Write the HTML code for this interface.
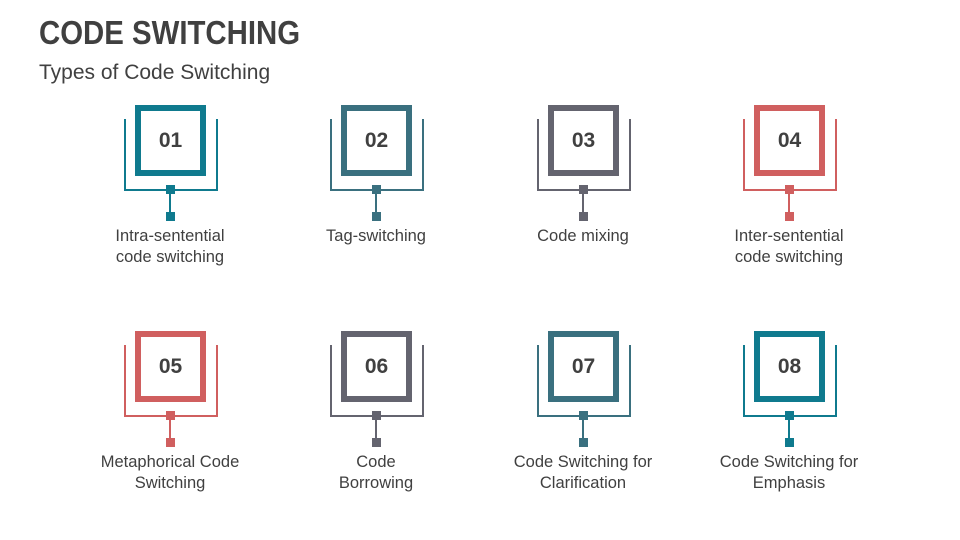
<!DOCTYPE html><html><head><style>
body{margin:0;width:960px;height:540px;background:#fff;font-family:"Liberation Sans",sans-serif;position:relative;overflow:hidden}
.t{position:absolute;left:39px;top:14px;font-size:33px;font-weight:bold;color:#404040;transform:scaleX(0.89);transform-origin:left}
.s{position:absolute;left:39px;top:61px;font-size:21px;color:#404040}
.it{position:absolute;width:200px;height:200px}
.sq{position:absolute;left:25px;top:0;width:59px;height:59px;border:6px solid;font-weight:bold;font-size:21px;color:#404040;text-align:center;line-height:59px}
.bl{position:absolute;left:14px;top:14px;width:90px;height:70px;border:2px solid;border-top:none}
.d{position:absolute;width:9px;height:9px}
.v{position:absolute;left:59px;top:84px;width:2px;height:28px}
.lb{position:absolute;left:-40px;width:200px;top:121px;text-align:center;font-size:16.5px;line-height:21px;color:#404040}
</style></head><body>
<div class="t">CODE SWITCHING</div>
<div class="s">Types of Code Switching</div>
<script>
var d=[["01","#0f7a8e","Intra-sentential<br>code switching"],["02","#3a707f","Tag-switching"],["03","#64646f","Code mixing"],["04","#d05f5f","Inter-sentential<br>code switching"],["05","#d05f5f","Metaphorical Code<br>Switching"],["06","#64646f","Code<br>Borrowing"],["07","#3a707f","Code Switching for<br>Clarification"],["08","#0f7a8e","Code Switching for<br>Emphasis"]];
var cx=[170,376,583,789];
d.forEach(function(e,i){var x=cx[i%4]-60,y=i<4?105:331,c=e[1];
document.write('<div class="it" style="left:'+x+'px;top:'+y+'px"><div class="bl" style="border-color:'+c+'"></div><div class="sq" style="border-color:'+c+';background:#fff">'+e[0]+'</div><div class="v" style="background:'+c+'"></div><div class="d" style="left:55.5px;top:80px;background:'+c+'"></div><div class="d" style="left:55.5px;top:107px;background:'+c+'"></div><div class="lb">'+e[2]+'</div></div>');});
</script>
</body></html>
